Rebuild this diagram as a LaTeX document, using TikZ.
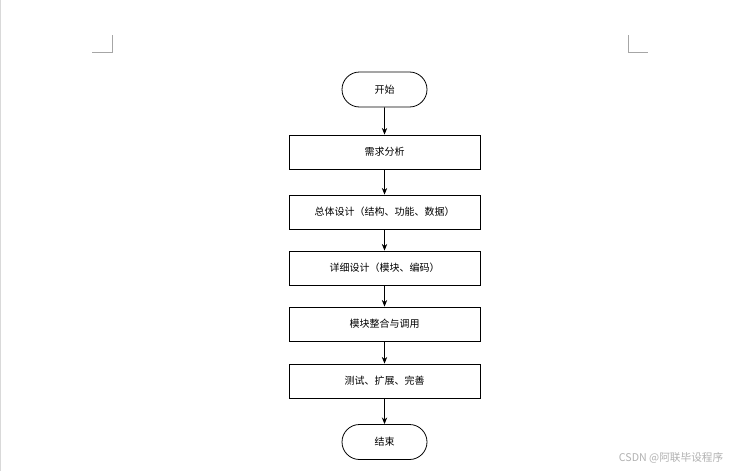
\documentclass[tikz,border=0pt]{standalone}
\usepackage{fontspec}
\setmainfont{Noto Sans CJK SC}
\usetikzlibrary{arrows.meta,shapes.misc}
\begin{document}
\begin{tikzpicture}[x=0.75pt,y=-0.75pt,font=\fontsize{7.5pt}{9pt}\selectfont,
  stepbox/.style={draw,line width=0.6pt,minimum width=143.25pt,minimum height=25.5pt,inner sep=0pt},
  term/.style={draw,line width=0.6pt,rounded rectangle,minimum width=63.75pt,minimum height=26.25pt,inner sep=0pt},
  arr/.style={-{Stealth[length=5pt,width=4pt]},line width=0.6pt},
  mark/.style={draw=gray!70,line width=0.5pt}]
\useasboundingbox[fill=white] (0,0) rectangle (738,471);
\draw[gray!30] (0.5,0) -- (0.5,471);
\draw[gray!70] (112,35) -- (112,52) -- (92,52);
\draw[gray!70] (628,35) -- (628,52) -- (648,52);
\node[term] (s) at (384.5,89.5) {开始};
\node[stepbox] (a) at (384.5,152) {需求分析};
\node[stepbox] (b) at (384.5,212) {总体设计（结构、功能、数据）};
\node[stepbox] (c) at (384.5,268) {详细设计（模块、编码）};
\node[stepbox] (d) at (384.5,324) {模块整合与调用};
\node[stepbox] (e) at (384.5,381) {测试、扩展、完善};
\node[term] (t) at (384.5,442) {结束};
\draw[arr] (s) -- (a);
\draw[arr] (a) -- (b);
\draw[arr] (b) -- (c);
\draw[arr] (c) -- (d);
\draw[arr] (d) -- (e);
\draw[arr] (e) -- (t);
\node[anchor=east,text=gray!60,font=\fontsize{8pt}{9pt}\selectfont] (w) at (728,458) {CSDN @阿联毕设程序};
\end{tikzpicture}
\end{document}
